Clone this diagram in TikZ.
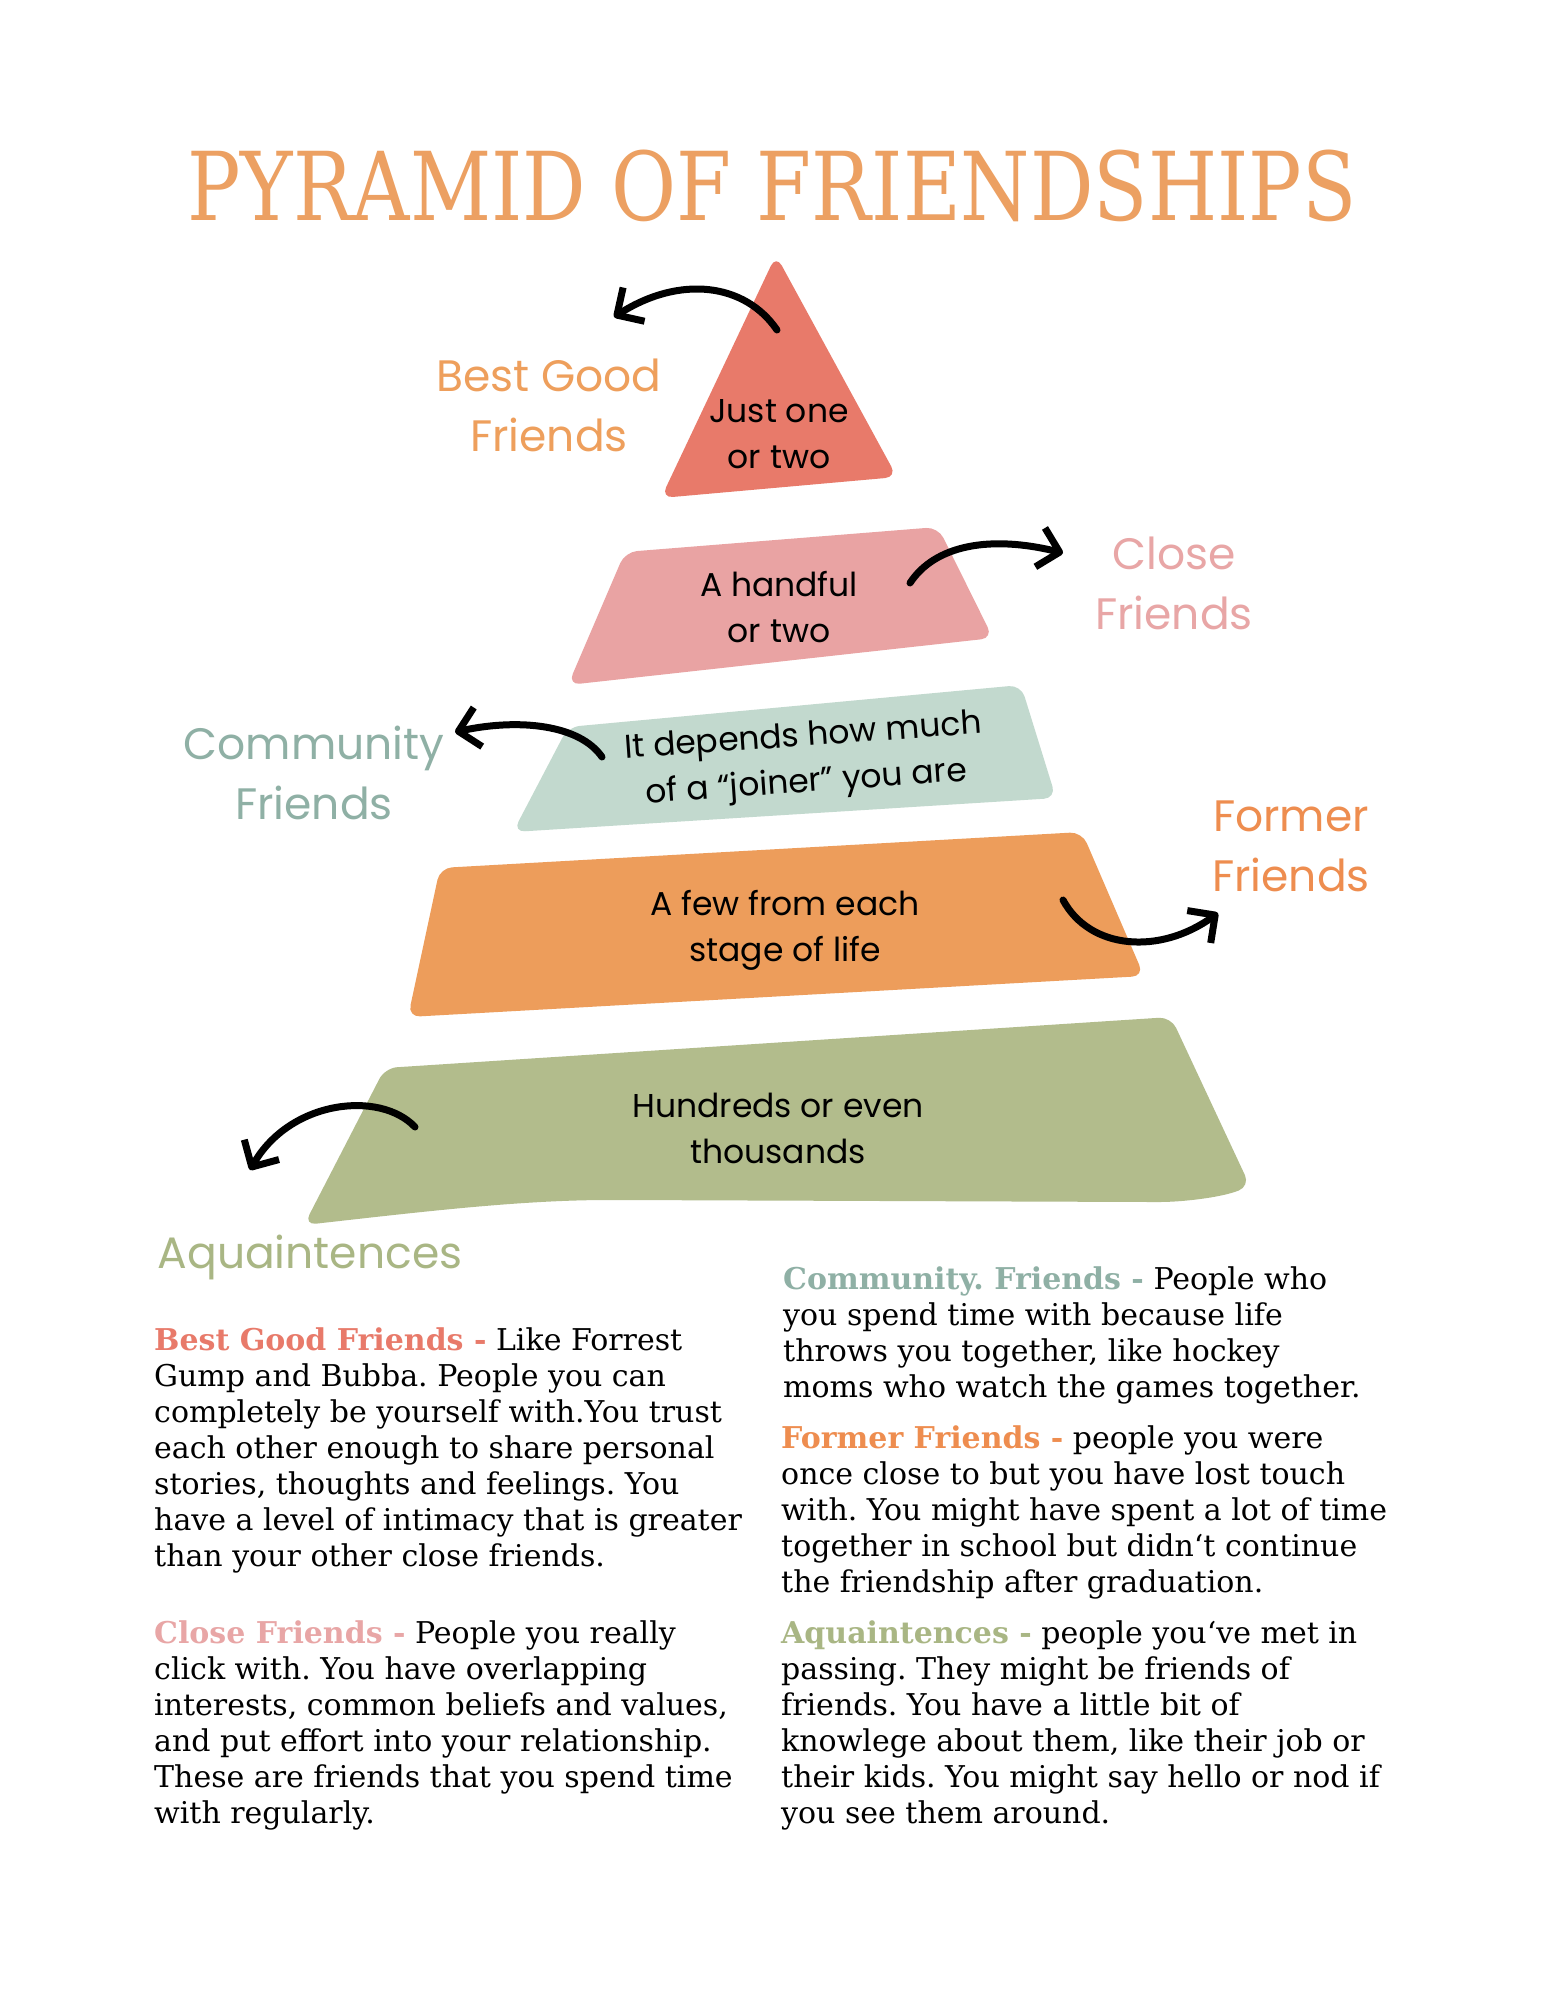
\documentclass[tikz,border=0pt]{standalone}
\usepackage{fontspec}
\setmainfont{DejaVu Serif}
\newfontfamily\titlefont[FakeStretch=0.835]{DejaVu Serif}
\newfontfamily\handfont{Poppins}
\definecolor{pyrtitle}{RGB}{236,160,98}
\definecolor{pyrsalmon}{RGB}{232,122,106}
\definecolor{pyrpink}{RGB}{233,163,163}
\definecolor{pyrmint}{RGB}{194,217,206}
\definecolor{pyrorange}{RGB}{237,157,91}
\definecolor{pyrolive}{RGB}{178,188,140}
\definecolor{lblorange}{RGB}{238,159,92}
\definecolor{lblpink}{RGB}{232,166,166}
\definecolor{lblsage}{RGB}{143,176,165}
\definecolor{lblformer}{RGB}{238,141,79}
\definecolor{lblolive}{RGB}{169,182,132}
\usetikzlibrary{arrows.meta,positioning}
\frenchspacing

\begin{document}
\begin{tikzpicture}[x=1pt, y=-1pt,
    layer/.style={rounded corners=12pt},
    inlbl/.style={font=\handfont\fontsize{33}{46}\selectfont, align=center, text=black},
    sidelbl/.style={font=\handfont\fontsize{44}{60}\selectfont, align=center},
    desc/.style={font=\fontsize{30}{36}\selectfont, align=left, anchor=north west, inner sep=0pt},
    curl/.style={line width=7pt, line cap=round, -{Straight Barb[length=20pt,width=40pt,line join=round]}}
  ]
  \fill[white] (0,0) rectangle (1545,2000);
  \useasboundingbox (0,0) rectangle (1545,2000);

  % Title
  \node[font=\titlefont\fontsize{95}{95}\selectfont, text=pyrtitle] (title) at (772,186) {PYRAMID OF FRIENDSHIPS};

  % Pyramid layers
  \fill[pyrsalmon, layer] (776,255) -- (897,477) -- (661,498) -- cycle;
  \fill[pyrpink, layer] (625,552) -- (938,527) -- (993,638) -- (568,685) -- cycle;
  \fill[pyrmint, layer] (568,727) -- (1021,685) -- (1056,798) -- (513,832) -- cycle;
  \fill[pyrorange, layer] (440,868) -- (1082,832) -- (1144,976) -- (408,1017) -- cycle;
  \fill[pyrolive, layer] (385,1068) -- (1171,1017) -- (1250,1186)
    .. controls (1220,1198) and (1180,1202) .. (1148,1202) -- (620,1200)
    .. controls (520,1200) and (420,1212) .. (304,1225) -- cycle;

  % Layer texts
  \node[inlbl] (best) at (779,434) {Just one\\or two};
  \node[inlbl] (close) at (779,607) {A handful\\or two};
  \node[inlbl, rotate=4] (comm) at (805,761) {It depends how much\\of a “joiner” you are};
  \node[inlbl] (former) at (785,930) {A few from each\\stage of life};
  \node[inlbl] (aqua) at (778,1128) {Hundreds or even\\thousands};

  % Side labels
  \node[sidelbl, text=lblorange] (bestlbl) at (549,405) {Best Good\\Friends};
  \node[sidelbl, text=lblpink] (closelbl) at (1174,583) {Close\\Friends};
  \node[sidelbl, text=lblsage] (commlbl) at (314,773) {Community\\Friends};
  \node[sidelbl, text=lblformer] (formerlbl) at (1291,846) {Former\\Friends};
  \node[sidelbl, text=lblolive] (aqualbl) at (310,1257) {Aquaintences};

  % Arrow ends
  \coordinate (best-a) at (777,330);
  \coordinate (best-b) at (614,317);
  \coordinate (close-a) at (910,583);
  \coordinate (close-b) at (1063,553);
  \coordinate (comm-a) at (602,757);
  \coordinate (comm-b) at (455,732);
  \coordinate (former-a) at (1063,900);
  \coordinate (former-b) at (1218,913);
  \coordinate (aqua-a) at (415,1127);
  \coordinate (aqua-b) at (250,1170);

  \draw[curl] (best-a) .. controls (745,283) and (680,275) .. (best-b);
  \draw[curl] (close-a) .. controls (935,545) and (990,535) .. (close-b);
  \draw[curl] (comm-a) .. controls (580,725) and (520,718) .. (comm-b);
  \draw[curl] (former-a) .. controls (1090,950) and (1160,955) .. (former-b);
  \draw[curl] (aqua-a) .. controls (380,1090) and (290,1100) .. (aqua-b);

  % Descriptions, left column
  \node[desc] (bestdesc) at (154,1327) {\textbf{\color{pyrsalmon}Best Good Friends -} Like Forrest\\Gump and Bubba. People you can\\completely be yourself with.You trust\\each other enough to share personal\\stories, thoughts and feelings. You\\have a level of intimacy that is greater\\than your other close friends.};
  \node[desc] (closedesc) at (154,1620) {\textbf{\color{lblpink}Close Friends -} People you really\\click with. You have overlapping\\interests, common beliefs and values,\\and put effort into your relationship.\\These are friends that you spend time\\with regularly.};

  % Descriptions, right column
  \node[desc] (commdesc) at (783,1266) {\textbf{\color{lblsage}Community. Friends -} People who\\you spend time with because life\\throws you together, like hockey\\moms who watch the games together.};
  \node[desc] (formerdesc) at (781,1425) {\textbf{\color{lblformer}Former Friends -} people you were\\once close to but you have lost touch\\with. You might have spent a lot of time\\together in school but didn‘t continue\\the friendship after graduation.};
  \node[desc] (aquadesc) at (781,1620) {\textbf{\color{lblolive}Aquaintences -} people you‘ve met in\\passing. They might be friends of\\friends. You have a little bit of\\knowlege about them, like their job or\\their kids. You might say hello or nod if\\you see them around.};
\end{tikzpicture}
\end{document}
